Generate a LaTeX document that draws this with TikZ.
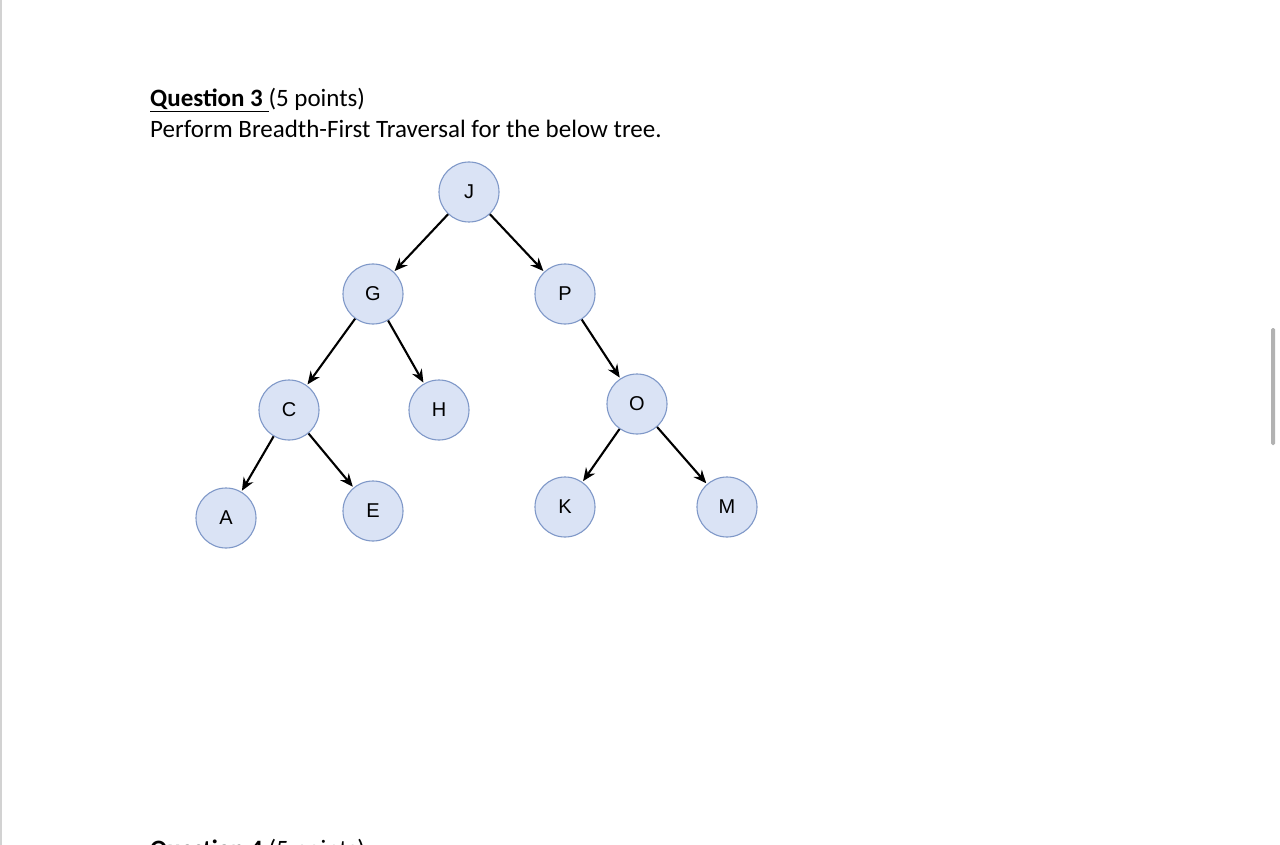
\documentclass[tikz,border=0pt]{standalone}
\usepackage{fontspec}
\setmainfont{Carlito}
\newfontfamily\arialf{Liberation Sans}
\usetikzlibrary{arrows.meta}
\definecolor{nfill}{HTML}{DAE3F5}
\definecolor{nedge}{HTML}{7F98C8}
\begin{document}
\begin{tikzpicture}[x=1pt,y=-1pt,
  tn/.style={circle,draw=nedge,fill=nfill,line width=1.1pt,minimum size=60pt,inner sep=0pt,font=\arialf\fontsize{20}{22}\selectfont},
  ed/.style={-{Stealth[length=13pt,width=11pt]},line width=2.1pt,shorten >=1pt}]
\useasboundingbox (0,0) rectangle (1280,845);
\clip (0,0) rectangle (1280,845);
\fill[white] (0,0) rectangle (1280,845);
\draw[gray!35,line width=1.5pt] (1,0) -- (1,845);
\fill[gray!60,rounded corners=1.5pt] (1271,328) rectangle (1275,445);
\node[anchor=base west,inner sep=0pt,font=\fontsize{25}{28}\selectfont] (t1) at (150,107) {\underline{\textbf{Question 3 }}(5 points)};
\node[anchor=base west,inner sep=0pt,font=\fontsize{25}{28}\selectfont] (t2) at (150,138) {Perform Breadth-First Traversal for the below tree.};
\node[anchor=base west,inner sep=0pt,font=\fontsize{25}{28}\selectfont] (t3) at (150,857) {\textbf{Question 4 }(5 points)};
\node[tn] (J) at (469,192) {J};
\node[tn] (G) at (373,294) {G};
\node[tn] (P) at (565,294) {P};
\node[tn] (C) at (289,410) {C};
\node[tn] (H) at (439,410) {H};
\node[tn] (O) at (637,404) {O};
\node[tn] (A) at (226,518) {A};
\node[tn] (E) at (373,511) {E};
\node[tn] (K) at (565,507) {K};
\node[tn] (M) at (727,507) {M};
\foreach \a/\b in {J/G,J/P,G/C,G/H,P/O,C/A,C/E,O/K,O/M}
  \draw[ed] (\a) -- (\b);
\end{tikzpicture}
\end{document}
